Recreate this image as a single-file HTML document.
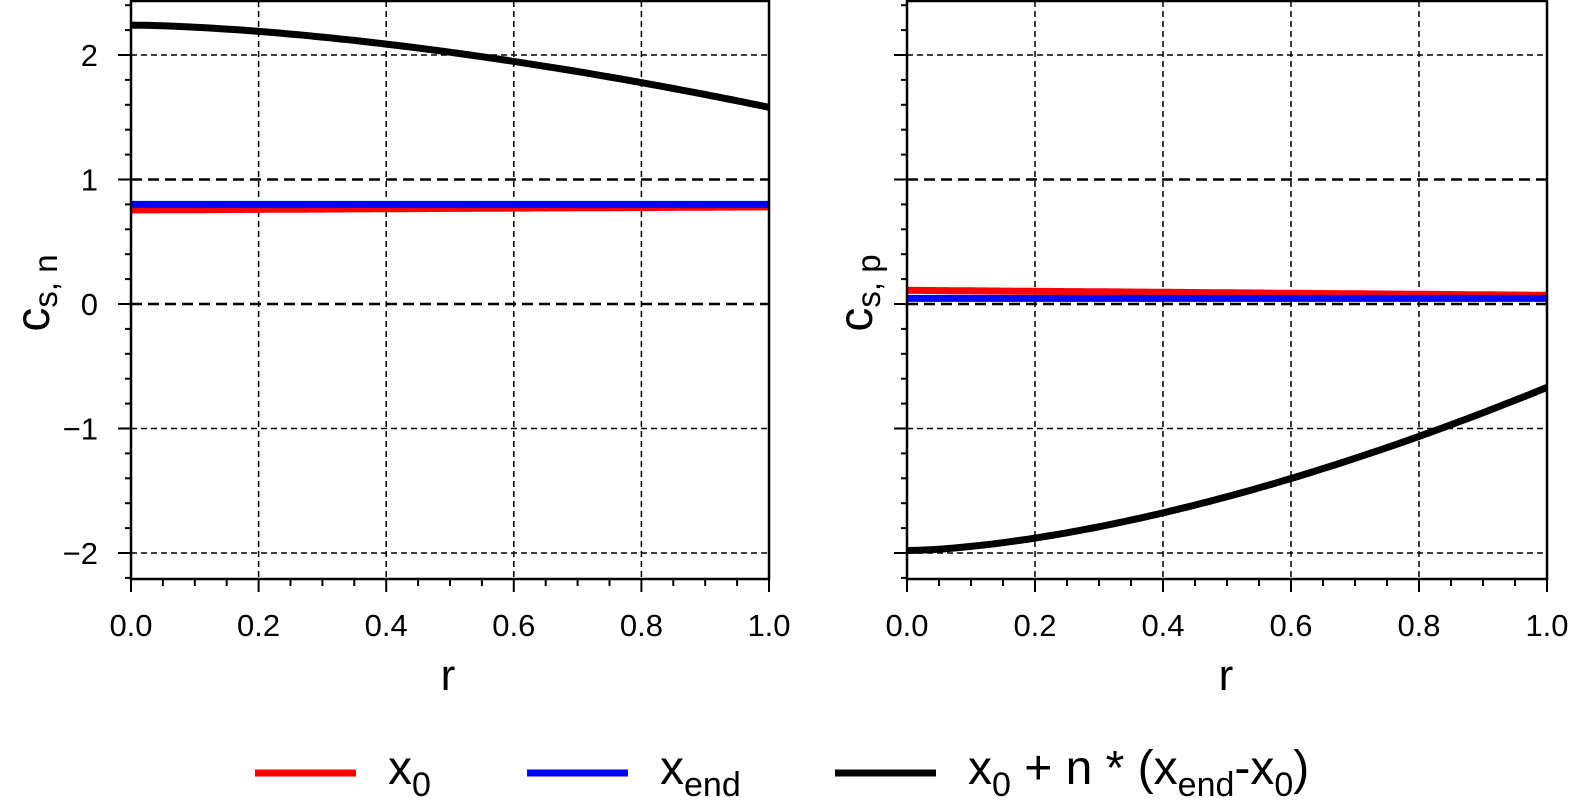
<!DOCTYPE html>
<html><head><meta charset="utf-8"><style>
html,body{margin:0;padding:0;background:#fff;}
svg{display:block;font-family:"Liberation Sans",Arial,sans-serif;}
</style></head><body>
<svg id="s" width="1570" height="804" viewBox="0 0 1570 804" xmlns="http://www.w3.org/2000/svg">
<g id="g"></g>
<text x="448" y="690" font-size="44" text-anchor="middle">r</text>
<text x="1226" y="690" font-size="44" text-anchor="middle">r</text>
<text transform="translate(49,293) rotate(-90)" font-size="48" text-anchor="middle">c<tspan font-size="33" dy="8">s, n</tspan></text>
<text transform="translate(872,293) rotate(-90)" font-size="48" text-anchor="middle">c<tspan font-size="33" dy="8">s, p</tspan></text>
<line x1="255" y1="773" x2="356" y2="773" stroke="#f00" stroke-width="7"/>
<text x="388" y="784" font-size="48">x<tspan font-size="34" dy="12">0</tspan></text>
<line x1="527" y1="773" x2="628" y2="773" stroke="#00f" stroke-width="7"/>
<text x="660" y="784" font-size="48">x<tspan font-size="34" dy="12">end</tspan></text>
<line x1="835" y1="773" x2="936" y2="773" stroke="#000" stroke-width="7"/>
<text x="968" y="784" font-size="48">x<tspan font-size="34" dy="12">0</tspan><tspan dy="-12"> + n * (x</tspan><tspan font-size="34" dy="12">end</tspan><tspan dy="-12">-x</tspan><tspan font-size="34" dy="12">0</tspan><tspan dy="-12">)</tspan></text>
</svg>
<script>
var g=document.getElementById('g');var h='';
function panel(X0,W,labels,fns){
 var py=function(v){return 304-124.5*v;};
 var px=function(x){return X0+W*x;};
 var T=1,B=579;
 for(var i=1;i<5;i++){h+='<line x1="'+px(i/5)+'" y1="'+T+'" x2="'+px(i/5)+'" y2="'+B+'" stroke="#000" stroke-width="1.5" stroke-dasharray="6,4"/>';}
 [2,-1,-2].forEach(function(v){h+='<line x1="'+X0+'" y1="'+py(v)+'" x2="'+(X0+W)+'" y2="'+py(v)+'" stroke="#000" stroke-width="1.5" stroke-dasharray="6,4"/>';});
 [1,0].forEach(function(v){h+='<line x1="'+X0+'" y1="'+py(v)+'" x2="'+(X0+W)+'" y2="'+py(v)+'" stroke="#000" stroke-width="2.5" stroke-dasharray="11,6"/>';});
 fns.forEach(function(f){var p=[];for(var k=0;k<=100;k++){var x=k/100;p.push(px(x).toFixed(1)+','+py(f[0](x)).toFixed(1));}
  h+='<polyline points="'+p.join(' ')+'" fill="none" stroke="'+f[1]+'" stroke-width="7"/>';});
 h+='<rect x="'+X0+'" y="'+T+'" width="'+W+'" height="'+(B-T)+'" fill="none" stroke="#000" stroke-width="2.5"/>';
 for(var v=-2.2;v<=2.41;v+=0.2){var vv=Math.round(v*10)/10;var maj=Math.abs(vv-Math.round(vv))<1e-6;
  h+='<line x1="'+(X0-(maj?13:6))+'" y1="'+py(vv)+'" x2="'+X0+'" y2="'+py(vv)+'" stroke="#000" stroke-width="2"/>';
  if(maj&&labels){h+='<text x="'+(X0-33)+'" y="'+(py(vv)+11)+'" font-size="31" text-anchor="end">'+(vv<0?'\u2212'+(-vv):vv)+'</text>';}}
 for(var k=0;k<=20;k++){var maj=k%4==0;var x=px(k/20);
  h+='<line x1="'+x+'" y1="'+B+'" x2="'+x+'" y2="'+(B+(maj?13:7))+'" stroke="#000" stroke-width="2"/>';
  if(maj){h+='<text x="'+x+'" y="'+(B+57)+'" font-size="31" text-anchor="middle">'+(k/20).toFixed(1)+'</text>';}}
}
panel(131,638,true,[
 [function(x){return 0.755+0.025*x;},'#f00'],
 [function(x){return 0.80;},'#00f'],
 [function(x){return 2.24-0.66*Math.pow(x,1.6);},'#000']]);
panel(907,640,false,[
 [function(x){return 0.11-0.04*x;},'#f00'],
 [function(x){return 0.045;},'#00f'],
 [function(x){return -1.98+1.31*Math.pow(x,1.6);},'#000']]);
g.innerHTML=h;
</script>
</body></html>
